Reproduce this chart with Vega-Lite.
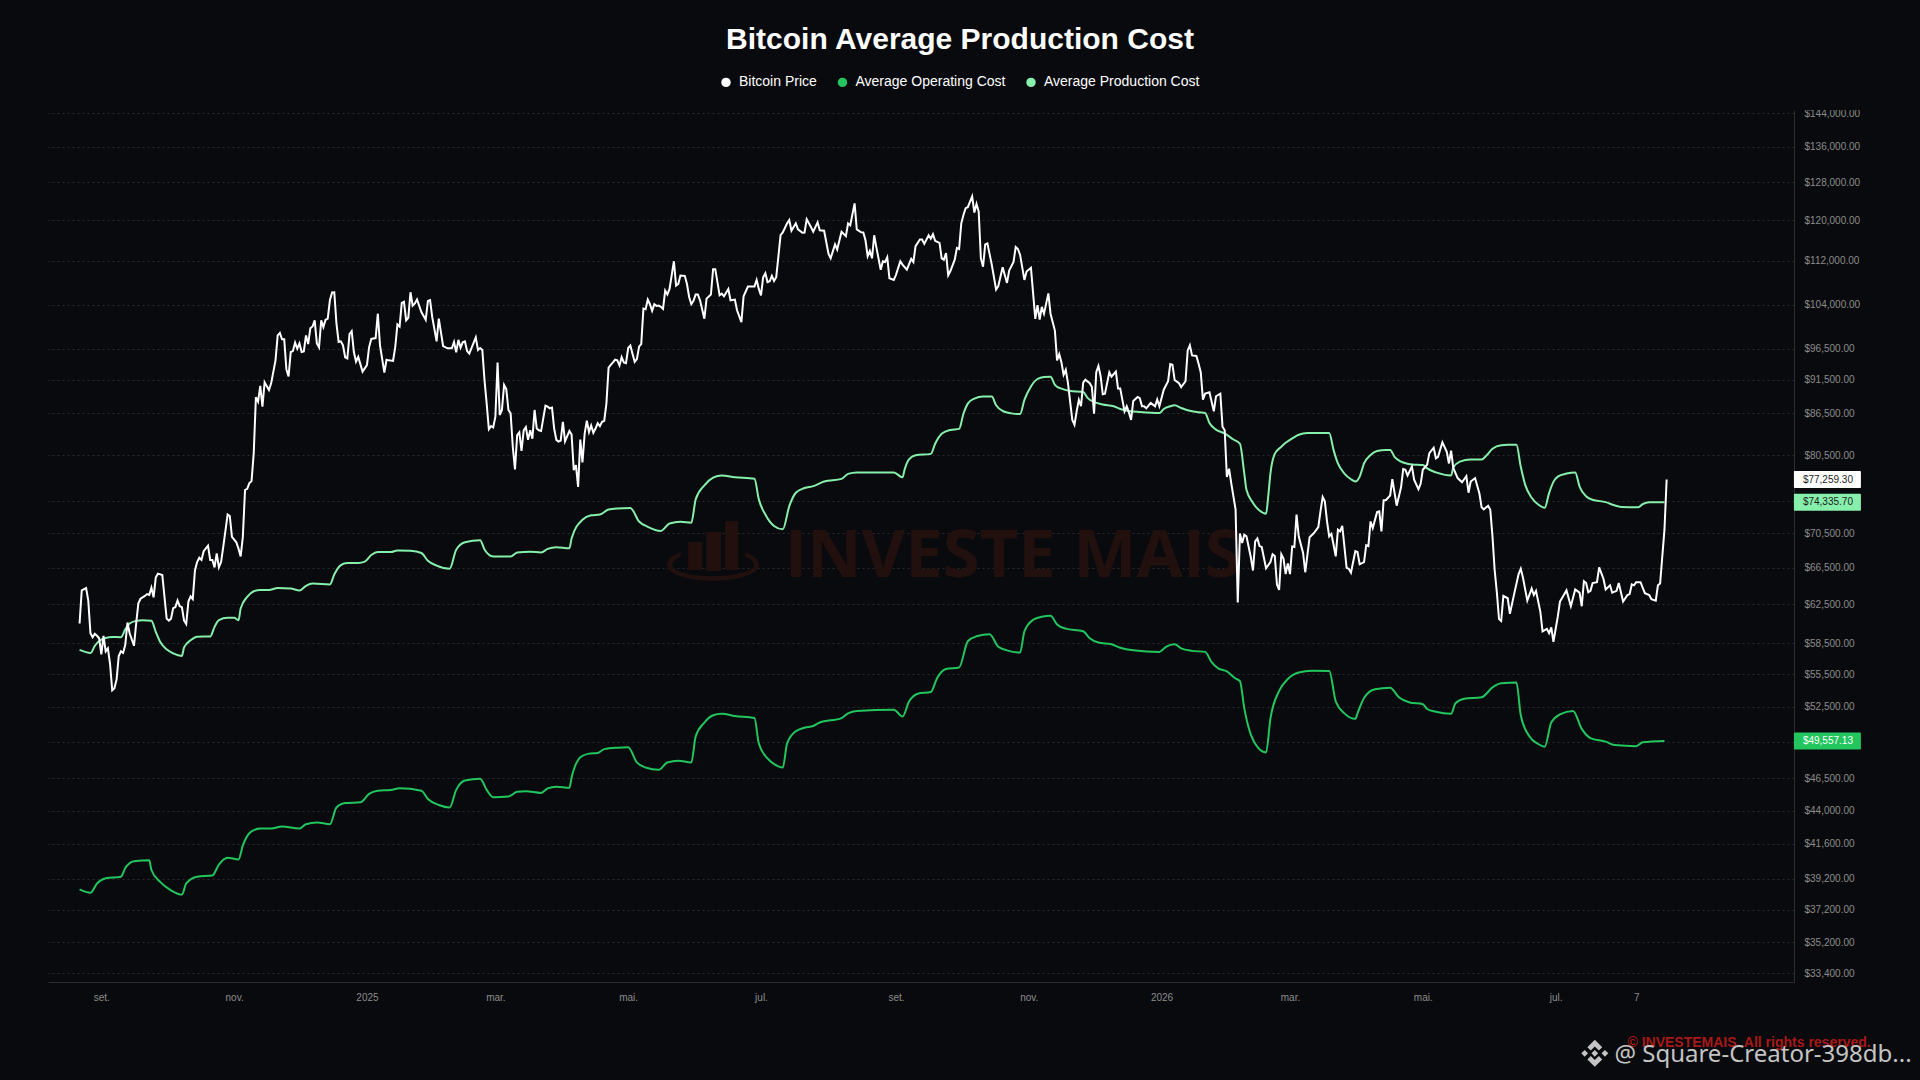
{
  "$schema": "https://vega.github.io/schema/vega-lite/v6.json",
  "description": "Bitcoin price against average operating and production cost",
  "width": 1746,
  "height": 872,
  "autosize": "none",
  "padding": {"left": 48, "top": 110, "right": 126, "bottom": 98},
  "background": "#090a0d",
  "title": {
    "text": "Bitcoin Average Production Cost",
    "font": "Liberation Sans",
    "fontSize": 30,
    "fontWeight": "bold",
    "color": "#ffffff",
    "anchor": "middle",
    "dx": 39,
    "offset": 19.6
  },
  "config": {
    "view": {"stroke": null},
    "font": "Liberation Sans"
  },
  "datasets": {
    "price": [
      {"date":"2024-08-22","value":60500},{"date":"2024-08-23","value":64000},{"date":"2024-08-25","value":64250},{"date":"2024-08-26","value":62900},{"date":"2024-08-27","value":59500},{"date":"2024-08-28","value":59100},{"date":"2024-08-29","value":59450},{"date":"2024-08-30","value":59250},{"date":"2024-08-31","value":59000},{"date":"2024-09-01","value":57400},{"date":"2024-09-02","value":59250},{"date":"2024-09-03","value":57700},{"date":"2024-09-04","value":58000},{"date":"2024-09-05","value":56500},{"date":"2024-09-06","value":54000},{"date":"2024-09-07","value":54200},{"date":"2024-09-08","value":55000},{"date":"2024-09-09","value":57250},{"date":"2024-09-10","value":57700},{"date":"2024-09-11","value":57550},{"date":"2024-09-12","value":58350},{"date":"2024-09-13","value":60600},{"date":"2024-09-14","value":59500},{"date":"2024-09-16","value":58250},{"date":"2024-09-17","value":60500},{"date":"2024-09-18","value":62600},{"date":"2024-09-19","value":63100},{"date":"2024-09-21","value":63400},{"date":"2024-09-22","value":63600},{"date":"2024-09-23","value":63500},{"date":"2024-09-24","value":64300},{"date":"2024-09-25","value":63250},{"date":"2024-09-26","value":65400},{"date":"2024-09-27","value":65850},{"date":"2024-09-29","value":65700},{"date":"2024-10-01","value":61000},{"date":"2024-10-02","value":60800},{"date":"2024-10-03","value":61000},{"date":"2024-10-04","value":62100},{"date":"2024-10-05","value":62200},{"date":"2024-10-06","value":62900},{"date":"2024-10-07","value":62300},{"date":"2024-10-08","value":62200},{"date":"2024-10-09","value":60800},{"date":"2024-10-10","value":60450},{"date":"2024-10-11","value":62800},{"date":"2024-10-12","value":63350},{"date":"2024-10-13","value":63050},{"date":"2024-10-14","value":66200},{"date":"2024-10-15","value":67150},{"date":"2024-10-16","value":67650},{"date":"2024-10-17","value":67400},{"date":"2024-10-18","value":68400},{"date":"2024-10-20","value":69050},{"date":"2024-10-21","value":67400},{"date":"2024-10-22","value":67400},{"date":"2024-10-23","value":66550},{"date":"2024-10-24","value":68150},{"date":"2024-10-25","value":66550},{"date":"2024-10-26","value":67150},{"date":"2024-10-27","value":68900},{"date":"2024-10-29","value":72800},{"date":"2024-10-30","value":72600},{"date":"2024-10-31","value":70100},{"date":"2024-11-02","value":69450},{"date":"2024-11-03","value":68700},{"date":"2024-11-04","value":67800},{"date":"2024-11-05","value":70100},{"date":"2024-11-06","value":75900},{"date":"2024-11-07","value":76050},{"date":"2024-11-08","value":76800},{"date":"2024-11-09","value":77050},{"date":"2024-11-10","value":80780},{"date":"2024-11-11","value":88850},{"date":"2024-11-12","value":88190},{"date":"2024-11-13","value":90570},{"date":"2024-11-14","value":87450},{"date":"2024-11-15","value":91140},{"date":"2024-11-17","value":89950},{"date":"2024-11-18","value":90980},{"date":"2024-11-20","value":94600},{"date":"2024-11-21","value":98700},{"date":"2024-11-22","value":99100},{"date":"2024-11-23","value":98050},{"date":"2024-11-24","value":98050},{"date":"2024-11-25","value":93150},{"date":"2024-11-26","value":92050},{"date":"2024-11-27","value":95950},{"date":"2024-11-28","value":96100},{"date":"2024-11-29","value":97500},{"date":"2024-11-30","value":96500},{"date":"2024-12-01","value":97350},{"date":"2024-12-02","value":95950},{"date":"2024-12-03","value":96050},{"date":"2024-12-04","value":98700},{"date":"2024-12-05","value":97250},{"date":"2024-12-06","value":99900},{"date":"2024-12-07","value":100200},{"date":"2024-12-08","value":101250},{"date":"2024-12-09","value":97350},{"date":"2024-12-10","value":96700},{"date":"2024-12-11","value":101250},{"date":"2024-12-12","value":100100},{"date":"2024-12-13","value":101350},{"date":"2024-12-14","value":101550},{"date":"2024-12-15","value":104800},{"date":"2024-12-16","value":106150},{"date":"2024-12-17","value":106200},{"date":"2024-12-18","value":100700},{"date":"2024-12-19","value":97600},{"date":"2024-12-20","value":97700},{"date":"2024-12-21","value":97050},{"date":"2024-12-22","value":95100},{"date":"2024-12-23","value":94900},{"date":"2024-12-24","value":98900},{"date":"2024-12-25","value":99400},{"date":"2024-12-26","value":95950},{"date":"2024-12-27","value":94400},{"date":"2024-12-28","value":95150},{"date":"2024-12-30","value":92800},{"date":"2025-01-01","value":93850},{"date":"2025-01-02","value":96750},{"date":"2025-01-03","value":98100},{"date":"2025-01-05","value":98250},{"date":"2025-01-06","value":102400},{"date":"2025-01-07","value":97050},{"date":"2025-01-09","value":92650},{"date":"2025-01-10","value":94700},{"date":"2025-01-11","value":94600},{"date":"2025-01-13","value":94500},{"date":"2025-01-14","value":96750},{"date":"2025-01-15","value":100550},{"date":"2025-01-16","value":100200},{"date":"2025-01-17","value":104300},{"date":"2025-01-18","value":104500},{"date":"2025-01-19","value":101250},{"date":"2025-01-20","value":101700},{"date":"2025-01-21","value":106200},{"date":"2025-01-22","value":103800},{"date":"2025-01-23","value":104200},{"date":"2025-01-24","value":104900},{"date":"2025-01-26","value":102700},{"date":"2025-01-28","value":101350},{"date":"2025-01-29","value":104650},{"date":"2025-01-30","value":104800},{"date":"2025-01-31","value":101800},{"date":"2025-02-02","value":97700},{"date":"2025-02-03","value":101550},{"date":"2025-02-05","value":96900},{"date":"2025-02-07","value":96550},{"date":"2025-02-09","value":96550},{"date":"2025-02-10","value":97600},{"date":"2025-02-11","value":95900},{"date":"2025-02-12","value":97950},{"date":"2025-02-13","value":96650},{"date":"2025-02-14","value":97550},{"date":"2025-02-15","value":97700},{"date":"2025-02-16","value":96100},{"date":"2025-02-17","value":95700},
      {"date":"2025-02-20","value":98360},{"date":"2025-02-21","value":96280},{"date":"2025-02-22","value":96600},{"date":"2025-02-23","value":96280},{"date":"2025-02-24","value":91500},{"date":"2025-02-25","value":87900},{"date":"2025-02-26","value":84150},{"date":"2025-02-27","value":84590},{"date":"2025-02-28","value":84400},{"date":"2025-03-01","value":85960},{"date":"2025-03-02","value":94260},{"date":"2025-03-03","value":86200},{"date":"2025-03-04","value":86950},{"date":"2025-03-05","value":90730},{"date":"2025-03-06","value":90100},{"date":"2025-03-07","value":86950},{"date":"2025-03-08","value":86450},{"date":"2025-03-09","value":81650},{"date":"2025-03-10","value":78600},{"date":"2025-03-11","value":83300},{"date":"2025-03-12","value":83700},{"date":"2025-03-13","value":81100},{"date":"2025-03-14","value":84000},{"date":"2025-03-15","value":84450},{"date":"2025-03-16","value":82650},{"date":"2025-03-17","value":84000},{"date":"2025-03-18","value":82800},{"date":"2025-03-19","value":86950},{"date":"2025-03-20","value":84250},{"date":"2025-03-21","value":84000},{"date":"2025-03-22","value":83900},{"date":"2025-03-24","value":87600},{"date":"2025-03-25","value":87450},{"date":"2025-03-26","value":87200},{"date":"2025-03-27","value":87300},{"date":"2025-03-28","value":84250},{"date":"2025-03-29","value":82650},{"date":"2025-03-30","value":82400},{"date":"2025-03-31","value":82550},{"date":"2025-04-01","value":85230},{"date":"2025-04-02","value":82450},{"date":"2025-04-03","value":83170},{"date":"2025-04-04","value":83900},{"date":"2025-04-05","value":83400},{"date":"2025-04-06","value":78500},{"date":"2025-04-07","value":79180},{"date":"2025-04-08","value":76300},{"date":"2025-04-09","value":82700},{"date":"2025-04-10","value":79550},{"date":"2025-04-11","value":83500},{"date":"2025-04-12","value":85380},{"date":"2025-04-13","value":83750},{"date":"2025-04-14","value":84690},{"date":"2025-04-15","value":83650},{"date":"2025-04-16","value":84250},{"date":"2025-04-17","value":85000},{"date":"2025-04-18","value":84600},{"date":"2025-04-19","value":85230},{"date":"2025-04-20","value":85380},{"date":"2025-04-21","value":87900},{"date":"2025-04-22","value":93450},{"date":"2025-04-23","value":93870},{"date":"2025-04-24","value":94260},{"date":"2025-04-25","value":94700},{"date":"2025-04-26","value":94590},{"date":"2025-04-27","value":93770},{"date":"2025-04-28","value":95100},{"date":"2025-04-29","value":94260},{"date":"2025-04-30","value":94150},{"date":"2025-05-01","value":96600},{"date":"2025-05-02","value":97000},{"date":"2025-05-03","value":95630},{"date":"2025-05-04","value":94370},{"date":"2025-05-05","value":94800},{"date":"2025-05-06","value":96830},{"date":"2025-05-07","value":97260},{"date":"2025-05-08","value":103290},{"date":"2025-05-09","value":103180},{"date":"2025-05-10","value":104900},{"date":"2025-05-11","value":104060},{"date":"2025-05-12","value":102900},{"date":"2025-05-13","value":104060},{"date":"2025-05-14","value":103770},{"date":"2025-05-15","value":103820},{"date":"2025-05-16","value":103600},{"date":"2025-05-17","value":103230},{"date":"2025-05-18","value":106500},{"date":"2025-05-19","value":105800},{"date":"2025-05-20","value":106800},{"date":"2025-05-22","value":111950},{"date":"2025-05-23","value":107400},{"date":"2025-05-24","value":107700},{"date":"2025-05-25","value":109250},{"date":"2025-05-27","value":109200},{"date":"2025-05-28","value":107700},{"date":"2025-05-29","value":105350},{"date":"2025-05-30","value":104060},{"date":"2025-05-31","value":104650},{"date":"2025-06-01","value":105800},{"date":"2025-06-02","value":105800},{"date":"2025-06-03","value":104750},{"date":"2025-06-05","value":101530},{"date":"2025-06-06","value":105060},{"date":"2025-06-08","value":105800},{"date":"2025-06-09","value":110450},{"date":"2025-06-10","value":110450},{"date":"2025-06-12","value":105650},{"date":"2025-06-13","value":105950},{"date":"2025-06-14","value":105470},{"date":"2025-06-16","value":106800},{"date":"2025-06-17","value":104750},{"date":"2025-06-19","value":104880},{"date":"2025-06-20","value":103000},{"date":"2025-06-22","value":100950},{"date":"2025-06-23","value":105470},{"date":"2025-06-25","value":107230},{"date":"2025-06-28","value":107230},{"date":"2025-06-29","value":108450},{"date":"2025-06-30","value":106800},{"date":"2025-07-01","value":105650},{"date":"2025-07-02","value":108950},{"date":"2025-07-03","value":109700},{"date":"2025-07-04","value":108050},{"date":"2025-07-05","value":108200},{"date":"2025-07-06","value":109200},{"date":"2025-07-07","value":108250},{"date":"2025-07-08","value":108950},{"date":"2025-07-09","value":112890},{"date":"2025-07-10","value":117010},{"date":"2025-07-11","value":117550},{"date":"2025-07-13","value":119390},{"date":"2025-07-14","value":120070},{"date":"2025-07-15","value":117900},{"date":"2025-07-17","value":119390},{"date":"2025-07-18","value":118180},{"date":"2025-07-20","value":117500},{"date":"2025-07-21","value":117550},{"date":"2025-07-22","value":120200},{"date":"2025-07-24","value":118600},{"date":"2025-07-25","value":117700},{"date":"2025-07-27","value":119600},{"date":"2025-07-28","value":118000},{"date":"2025-07-30","value":117900},{"date":"2025-08-01","value":113400},{"date":"2025-08-02","value":112500},{"date":"2025-08-04","value":115200},{"date":"2025-08-05","value":114200},{"date":"2025-08-07","value":117700},{"date":"2025-08-09","value":116800},{"date":"2025-08-10","value":119390},{"date":"2025-08-11","value":119000},{"date":"2025-08-13","value":123500},{"date":"2025-08-14","value":118180},{"date":"2025-08-16","value":117600},{"date":"2025-08-17","value":117550},{"date":"2025-08-18","value":116000},{"date":"2025-08-19","value":112900},
      {"date":"2025-08-20","value":113900},{"date":"2025-08-21","value":112500},{"date":"2025-08-22","value":117000},{"date":"2025-08-23","value":114600},{"date":"2025-08-25","value":110350},{"date":"2025-08-26","value":111950},{"date":"2025-08-27","value":111800},{"date":"2025-08-28","value":112700},{"date":"2025-08-29","value":108750},{"date":"2025-08-31","value":108450},{"date":"2025-09-01","value":109400},{"date":"2025-09-03","value":111950},{"date":"2025-09-04","value":111300},{"date":"2025-09-06","value":110350},{"date":"2025-09-08","value":112400},{"date":"2025-09-09","value":111800},{"date":"2025-09-10","value":114850},{"date":"2025-09-12","value":116150},{"date":"2025-09-13","value":116150},{"date":"2025-09-14","value":115300},{"date":"2025-09-16","value":117000},{"date":"2025-09-17","value":116300},{"date":"2025-09-18","value":117200},{"date":"2025-09-19","value":115900},{"date":"2025-09-21","value":115500},{"date":"2025-09-22","value":112500},{"date":"2025-09-23","value":112250},{"date":"2025-09-24","value":113500},{"date":"2025-09-25","value":109300},{"date":"2025-09-26","value":110100},{"date":"2025-09-28","value":112250},{"date":"2025-09-29","value":114500},{"date":"2025-09-30","value":114300},{"date":"2025-10-01","value":119390},{"date":"2025-10-02","value":121100},{"date":"2025-10-03","value":122500},{"date":"2025-10-04","value":122700},{"date":"2025-10-06","value":125000},{"date":"2025-10-07","value":121600},{"date":"2025-10-08","value":123400},{"date":"2025-10-09","value":121800},{"date":"2025-10-10","value":112500},{"date":"2025-10-11","value":110900},{"date":"2025-10-12","value":115200},{"date":"2025-10-13","value":115400},{"date":"2025-10-15","value":111300},{"date":"2025-10-17","value":106700},{"date":"2025-10-18","value":107300},{"date":"2025-10-20","value":110800},{"date":"2025-10-22","value":107900},{"date":"2025-10-23","value":110200},{"date":"2025-10-25","value":111800},{"date":"2025-10-26","value":114700},{"date":"2025-10-27","value":114300},{"date":"2025-10-28","value":113200},{"date":"2025-10-30","value":108450},{"date":"2025-10-31","value":110000},{"date":"2025-11-02","value":110700},{"date":"2025-11-04","value":101500},{"date":"2025-11-05","value":103900},{"date":"2025-11-06","value":101400},{"date":"2025-11-07","value":103600},{"date":"2025-11-08","value":102400},{"date":"2025-11-10","value":106000},{"date":"2025-11-11","value":102400},{"date":"2025-11-13","value":99500},{"date":"2025-11-14","value":94600},{"date":"2025-11-15","value":95600},{"date":"2025-11-16","value":94300},{"date":"2025-11-17","value":92300},{"date":"2025-11-18","value":93100},{"date":"2025-11-19","value":91000},{"date":"2025-11-21","value":85500},{"date":"2025-11-22","value":84800},{"date":"2025-11-23","value":86750},{"date":"2025-11-24","value":88450},{"date":"2025-11-25","value":87500},{"date":"2025-11-26","value":91100},{"date":"2025-11-27","value":91550},{"date":"2025-11-29","value":91000},{"date":"2025-11-30","value":90400},{"date":"2025-12-01","value":86400},{"date":"2025-12-02","value":92700},{"date":"2025-12-03","value":93700},{"date":"2025-12-04","value":92100},{"date":"2025-12-05","value":89300},{"date":"2025-12-06","value":89400},{"date":"2025-12-08","value":92700},{"date":"2025-12-09","value":92000},{"date":"2025-12-11","value":92800},{"date":"2025-12-12","value":90200},{"date":"2025-12-13","value":90200},{"date":"2025-12-15","value":86750},{"date":"2025-12-16","value":87500},{"date":"2025-12-17","value":86600},{"date":"2025-12-18","value":85500},{"date":"2025-12-19","value":88300},{"date":"2025-12-21","value":88900},{"date":"2025-12-22","value":88700},{"date":"2025-12-23","value":87500},{"date":"2025-12-24","value":87500},{"date":"2025-12-25","value":87200},{"date":"2025-12-27","value":88000},{"date":"2025-12-29","value":87500},{"date":"2025-12-30","value":88500},{"date":"2025-12-31","value":87500},{"date":"2026-01-02","value":90000},{"date":"2026-01-04","value":91300},{"date":"2026-01-05","value":94000},{"date":"2026-01-06","value":93900},{"date":"2026-01-07","value":91500},{"date":"2026-01-09","value":91000},{"date":"2026-01-10","value":90400},{"date":"2026-01-12","value":91300},{"date":"2026-01-13","value":96200},{"date":"2026-01-14","value":97050},{"date":"2026-01-15","value":95400},{"date":"2026-01-17","value":95300},{"date":"2026-01-18","value":94050},{"date":"2026-01-19","value":92700},{"date":"2026-01-20","value":88500},{"date":"2026-01-21","value":89400},{"date":"2026-01-23","value":89600},{"date":"2026-01-25","value":86750},{"date":"2026-01-26","value":89000},{"date":"2026-01-28","value":89400},{"date":"2026-01-29","value":84500},{"date":"2026-01-30","value":84000},{"date":"2026-01-31","value":77600},{"date":"2026-02-01","value":78700},{"date":"2026-02-02","value":76800},{"date":"2026-02-04","value":73400},{"date":"2026-02-05","value":62700},
      {"date":"2026-02-06","value":70500},{"date":"2026-02-07","value":69350},{"date":"2026-02-08","value":70350},{"date":"2026-02-09","value":70150},{"date":"2026-02-11","value":67700},{"date":"2026-02-12","value":66200},{"date":"2026-02-13","value":69550},{"date":"2026-02-14","value":69900},{"date":"2026-02-15","value":69000},{"date":"2026-02-16","value":68900},{"date":"2026-02-18","value":66450},{"date":"2026-02-20","value":67150},{"date":"2026-02-21","value":68050},{"date":"2026-02-22","value":67850},{"date":"2026-02-23","value":64650},{"date":"2026-02-24","value":64050},{"date":"2026-02-25","value":68050},{"date":"2026-02-26","value":67550},{"date":"2026-02-27","value":65800},{"date":"2026-02-28","value":67000},{"date":"2026-03-01","value":65800},{"date":"2026-03-02","value":68950},{"date":"2026-03-03","value":68900},{"date":"2026-03-04","value":72800},{"date":"2026-03-05","value":70150},{"date":"2026-03-07","value":68200},{"date":"2026-03-08","value":66000},{"date":"2026-03-10","value":70050},{"date":"2026-03-12","value":70550},{"date":"2026-03-14","value":71250},{"date":"2026-03-15","value":73200},{"date":"2026-03-16","value":75000},{"date":"2026-03-17","value":74450},{"date":"2026-03-18","value":71950},{"date":"2026-03-19","value":70150},{"date":"2026-03-20","value":70450},{"date":"2026-03-21","value":69150},{"date":"2026-03-22","value":67800},{"date":"2026-03-23","value":70950},{"date":"2026-03-24","value":70750},{"date":"2026-03-25","value":71400},{"date":"2026-03-27","value":66500},{"date":"2026-03-28","value":66400},{"date":"2026-03-29","value":65950},{"date":"2026-03-31","value":68400},{"date":"2026-04-01","value":68300},{"date":"2026-04-02","value":66900},{"date":"2026-04-04","value":67150},{"date":"2026-04-05","value":69100},{"date":"2026-04-06","value":69000},{"date":"2026-04-07","value":71950},{"date":"2026-04-08","value":71150},{"date":"2026-04-10","value":73100},{"date":"2026-04-11","value":73200},{"date":"2026-04-12","value":70750},{"date":"2026-04-13","value":74600},{"date":"2026-04-14","value":74600},{"date":"2026-04-16","value":75200},{"date":"2026-04-17","value":77300},{"date":"2026-04-19","value":73900},{"date":"2026-04-21","value":76250},{"date":"2026-04-22","value":78650},{"date":"2026-04-23","value":78550},{"date":"2026-04-24","value":77800},{"date":"2026-04-26","value":79000},{"date":"2026-04-27","value":77250},{"date":"2026-04-29","value":76000},{"date":"2026-04-30","value":76700},{"date":"2026-05-01","value":78550},{"date":"2026-05-03","value":79250},{"date":"2026-05-04","value":80800},{"date":"2026-05-06","value":81550},{"date":"2026-05-07","value":80100},{"date":"2026-05-08","value":80300},{"date":"2026-05-10","value":82300},{"date":"2026-05-12","value":81000},{"date":"2026-05-13","value":79400},{"date":"2026-05-14","value":81150},{"date":"2026-05-15","value":78800},{"date":"2026-05-17","value":77450},{"date":"2026-05-19","value":76900},{"date":"2026-05-21","value":77700},{"date":"2026-05-22","value":75550},{"date":"2026-05-23","value":77000},{"date":"2026-05-25","value":77450},{"date":"2026-05-27","value":75450},{"date":"2026-05-28","value":73700},{"date":"2026-05-29","value":73450},{"date":"2026-05-31","value":73900},{"date":"2026-06-01","value":73400},{"date":"2026-06-02","value":70150},{"date":"2026-06-03","value":66250},{"date":"2026-06-04","value":63800},{"date":"2026-06-05","value":60950},{"date":"2026-06-06","value":60750},{"date":"2026-06-07","value":63400},{"date":"2026-06-09","value":63150},{"date":"2026-06-10","value":61500},{"date":"2026-06-12","value":63650},{"date":"2026-06-14","value":65800},{"date":"2026-06-15","value":66400},{"date":"2026-06-16","value":65400},{"date":"2026-06-18","value":62900},{"date":"2026-06-20","value":64200},{"date":"2026-06-21","value":63500},{"date":"2026-06-22","value":63950},{"date":"2026-06-24","value":61700},{"date":"2026-06-25","value":59700},{"date":"2026-06-27","value":59950},{"date":"2026-06-28","value":59500},{"date":"2026-06-29","value":60100},{"date":"2026-06-30","value":58650},{"date":"2026-07-02","value":61200},{"date":"2026-07-03","value":62800},{"date":"2026-07-06","value":64000},{"date":"2026-07-08","value":62300},{"date":"2026-07-10","value":64100},{"date":"2026-07-12","value":63750},{"date":"2026-07-13","value":62300},{"date":"2026-07-14","value":65000},{"date":"2026-07-15","value":64800},{"date":"2026-07-16","value":63800},{"date":"2026-07-17","value":63950},{"date":"2026-07-18","value":64800},{"date":"2026-07-20","value":64900},{"date":"2026-07-21","value":66550},{"date":"2026-07-23","value":65250},{"date":"2026-07-24","value":64100},{"date":"2026-07-26","value":64550},{"date":"2026-07-27","value":63750},{"date":"2026-07-29","value":63950},{"date":"2026-07-30","value":64800},{"date":"2026-08-01","value":62800},{"date":"2026-08-03","value":63500},{"date":"2026-08-04","value":63600},{"date":"2026-08-05","value":64650},{"date":"2026-08-06","value":64550},{"date":"2026-08-07","value":64900},{"date":"2026-08-09","value":64900},{"date":"2026-08-11","value":63700},{"date":"2026-08-13","value":63500},{"date":"2026-08-14","value":63050},{"date":"2026-08-16","value":62900},{"date":"2026-08-17","value":64550},{"date":"2026-08-18","value":64750},{"date":"2026-08-20","value":70950},{"date":"2026-08-21","value":77259.3}
    ],
    "operating": [
      {"date":"2024-08-22","value":38510},{"date":"2024-08-27","value":38290},{"date":"2024-08-30","value":38900},{"date":"2024-09-03","value":39250},{"date":"2024-09-10","value":39350},{"date":"2024-09-12","value":39930},{"date":"2024-09-16","value":40400},{"date":"2024-09-23","value":40470},{"date":"2024-09-24","value":39800},{"date":"2024-09-28","value":39000},{"date":"2024-10-03","value":38450},{"date":"2024-10-08","value":38170},{"date":"2024-10-10","value":38900},{"date":"2024-10-15","value":39350},{"date":"2024-10-22","value":39430},{"date":"2024-10-25","value":40170},{"date":"2024-10-29","value":40640},{"date":"2024-11-03","value":40520},{"date":"2024-11-05","value":41500},{"date":"2024-11-09","value":42500},{"date":"2024-11-13","value":42700},{"date":"2024-11-18","value":42700},{"date":"2024-11-23","value":42850},{"date":"2024-12-01","value":42700},{"date":"2024-12-04","value":43020},{"date":"2024-12-09","value":43150},{"date":"2024-12-15","value":43020},{"date":"2024-12-18","value":44260},{"date":"2024-12-22","value":44600},{"date":"2024-12-29","value":44650},{"date":"2025-01-02","value":45300},{"date":"2025-01-06","value":45530},{"date":"2025-01-12","value":45600},{"date":"2025-01-16","value":45720},{"date":"2025-01-26","value":45530},{"date":"2025-01-29","value":44900},{"date":"2025-02-03","value":44450},{"date":"2025-02-08","value":44260},{"date":"2025-02-11","value":45600},{"date":"2025-02-15","value":46330},{"date":"2025-02-22","value":46470},{"date":"2025-02-25","value":45600},{"date":"2025-02-28","value":45040},{"date":"2025-03-07","value":45090},{"date":"2025-03-11","value":45450},{"date":"2025-03-15","value":45500},{"date":"2025-03-22","value":45370},{"date":"2025-03-25","value":45720},{"date":"2025-03-29","value":45850},{"date":"2025-04-04","value":45770},{"date":"2025-04-05","value":46560},{"date":"2025-04-09","value":48200},{"date":"2025-04-13","value":48500},{"date":"2025-04-17","value":48560},{"date":"2025-04-20","value":48870},{"date":"2025-04-26","value":48990},{"date":"2025-05-01","value":49020},{"date":"2025-05-05","value":47780},{"date":"2025-05-09","value":47370},{"date":"2025-05-15","value":47180},{"date":"2025-05-19","value":47780},{"date":"2025-05-24","value":47920},{"date":"2025-05-30","value":47780},{"date":"2025-06-01","value":49930},{"date":"2025-06-05","value":51130},{"date":"2025-06-09","value":51770},{"date":"2025-06-13","value":51900},{"date":"2025-06-19","value":51700},{"date":"2025-06-28","value":51520},{"date":"2025-06-30","value":49350},{"date":"2025-07-04","value":48100},{"date":"2025-07-08","value":47550},{"date":"2025-07-11","value":47360},{"date":"2025-07-13","value":49350},{"date":"2025-07-17","value":50380},{"date":"2025-07-21","value":50680},{"date":"2025-07-25","value":50830},{"date":"2025-07-28","value":51130},{"date":"2025-08-07","value":51520},{"date":"2025-08-10","value":51930},{"date":"2025-08-14","value":52150},{"date":"2025-08-31","value":52250},{"date":"2025-09-04","value":51650},{"date":"2025-09-07","value":52990},{"date":"2025-09-11","value":53700},{"date":"2025-09-17","value":53850},{"date":"2025-09-20","value":55180},{"date":"2025-09-24","value":56000},{"date":"2025-09-30","value":56150},{"date":"2025-10-04","value":58700},{"date":"2025-10-08","value":59200},{"date":"2025-10-14","value":59400},{"date":"2025-10-18","value":58150},{"date":"2025-10-22","value":57800},{"date":"2025-10-28","value":57580},{"date":"2025-10-30","value":59700},{"date":"2025-11-03","value":60880},{"date":"2025-11-07","value":61200},{"date":"2025-11-11","value":61300},{"date":"2025-11-14","value":60400},{"date":"2025-11-18","value":59970},{"date":"2025-11-26","value":59700},{"date":"2025-11-29","value":59000},{"date":"2025-12-03","value":58570},{"date":"2025-12-09","value":58400},{"date":"2025-12-13","value":58050},{"date":"2025-12-19","value":57800},{"date":"2025-12-31","value":57650},{"date":"2026-01-03","value":58150},{"date":"2026-01-07","value":58400},{"date":"2026-01-10","value":58000},{"date":"2026-01-15","value":57750},{"date":"2026-01-21","value":57650},{"date":"2026-01-24","value":56650},{"date":"2026-01-27","value":56050},{"date":"2026-01-31","value":55770},{"date":"2026-02-04","value":55100},{"date":"2026-02-06","value":54860},{"date":"2026-02-08","value":52380},{"date":"2026-02-11","value":50090},{"date":"2026-02-14","value":49060},{"date":"2026-02-18","value":48600},{"date":"2026-02-20","value":51470},{"date":"2026-02-24","value":53950},{"date":"2026-02-28","value":55050},{"date":"2026-03-05","value":55660},{"date":"2026-03-11","value":55820},{"date":"2026-03-19","value":55800},{"date":"2026-03-22","value":53000},{"date":"2026-03-26","value":51930},{"date":"2026-03-31","value":51450},{"date":"2026-04-01","value":51930},{"date":"2026-04-04","value":53300},{"date":"2026-04-09","value":54100},{"date":"2026-04-16","value":54250},{"date":"2026-04-20","value":53370},{"date":"2026-04-25","value":52900},{"date":"2026-05-01","value":52750},{"date":"2026-05-03","value":52320},{"date":"2026-05-07","value":52070},{"date":"2026-05-14","value":51900},{"date":"2026-05-16","value":52830},{"date":"2026-05-20","value":53240},{"date":"2026-05-28","value":53370},{"date":"2026-06-02","value":54270},{"date":"2026-06-06","value":54650},{"date":"2026-06-13","value":54720},{"date":"2026-06-15","value":51770},{"date":"2026-06-19","value":49930},{"date":"2026-06-23","value":49300},{"date":"2026-06-26","value":49070},{"date":"2026-06-29","value":51130},{"date":"2026-07-03","value":51840},{"date":"2026-07-09","value":52150},{"date":"2026-07-13","value":50580},{"date":"2026-07-17","value":49800},{"date":"2026-07-24","value":49500},{"date":"2026-07-28","value":49210},{"date":"2026-08-07","value":49120},{"date":"2026-08-10","value":49440},{"date":"2026-08-20","value":49557.13}
    ],
    "production": [
      {"date":"2024-08-22","value":57840},{"date":"2024-08-27","value":57540},{"date":"2024-08-29","value":58240},{"date":"2024-08-31","value":58730},{"date":"2024-09-03","value":59030},{"date":"2024-09-06","value":59130},{"date":"2024-09-10","value":59100},{"date":"2024-09-12","value":59900},{"date":"2024-09-14","value":60500},{"date":"2024-09-17","value":60770},{"date":"2024-09-20","value":60840},{"date":"2024-09-24","value":60770},{"date":"2024-09-26","value":59650},{"date":"2024-09-28","value":58650},{"date":"2024-10-01","value":57900},{"date":"2024-10-04","value":57500},{"date":"2024-10-08","value":57250},{"date":"2024-10-09","value":58100},{"date":"2024-10-12","value":58800},{"date":"2024-10-15","value":59150},{"date":"2024-10-18","value":59170},{"date":"2024-10-21","value":59170},{"date":"2024-10-23","value":60150},{"date":"2024-10-25","value":60840},{"date":"2024-10-29","value":61080},{"date":"2024-11-01","value":61080},{"date":"2024-11-03","value":60840},{"date":"2024-11-04","value":62050},{"date":"2024-11-07","value":63300},{"date":"2024-11-10","value":63900},{"date":"2024-11-13","value":64050},{"date":"2024-11-17","value":64050},{"date":"2024-11-21","value":64250},{"date":"2024-11-27","value":64200},{"date":"2024-12-01","value":64000},{"date":"2024-12-04","value":64500},{"date":"2024-12-07","value":64750},{"date":"2024-12-15","value":64650},{"date":"2024-12-17","value":65750},{"date":"2024-12-20","value":66800},{"date":"2024-12-23","value":67050},{"date":"2024-12-28","value":67050},{"date":"2024-12-31","value":67200},{"date":"2025-01-03","value":67970},{"date":"2025-01-06","value":68300},{"date":"2025-01-12","value":68300},{"date":"2025-01-15","value":68500},{"date":"2025-01-21","value":68450},{"date":"2025-01-26","value":68200},{"date":"2025-01-29","value":67300},{"date":"2025-02-02","value":66750},{"date":"2025-02-08","value":66400},{"date":"2025-02-11","value":68570},{"date":"2025-02-15","value":69450},{"date":"2025-02-22","value":69700},{"date":"2025-02-24","value":68600},{"date":"2025-02-28","value":67800},{"date":"2025-03-08","value":67800},{"date":"2025-03-11","value":68250},{"date":"2025-03-17","value":68350},{"date":"2025-03-22","value":68250},{"date":"2025-03-25","value":68670},{"date":"2025-03-29","value":68870},{"date":"2025-04-04","value":68750},{"date":"2025-04-05","value":69900},{"date":"2025-04-10","value":72150},{"date":"2025-04-14","value":72700},{"date":"2025-04-18","value":72800},{"date":"2025-04-22","value":73430},{"date":"2025-04-26","value":73550},{"date":"2025-05-02","value":73600},{"date":"2025-05-06","value":71950},{"date":"2025-05-10","value":71300},{"date":"2025-05-16","value":70800},{"date":"2025-05-20","value":71700},{"date":"2025-05-25","value":71900},{"date":"2025-05-30","value":71800},{"date":"2025-06-01","value":74700},{"date":"2025-06-05","value":76500},{"date":"2025-06-09","value":77500},{"date":"2025-06-13","value":77800},{"date":"2025-06-19","value":77570},{"date":"2025-06-28","value":77350},{"date":"2025-06-30","value":74700},{"date":"2025-07-03","value":72800},{"date":"2025-07-07","value":71400},{"date":"2025-07-11","value":71000},{"date":"2025-07-14","value":73850},{"date":"2025-07-17","value":75550},{"date":"2025-07-21","value":76150},{"date":"2025-07-25","value":76400},{"date":"2025-07-30","value":77000},{"date":"2025-08-07","value":77350},{"date":"2025-08-10","value":78000},{"date":"2025-08-14","value":78200},{"date":"2025-08-31","value":78200},{"date":"2025-09-04","value":77550},{"date":"2025-09-05","value":78600},{"date":"2025-09-07","value":79950},{"date":"2025-09-10","value":80500},{"date":"2025-09-17","value":80700},{"date":"2025-09-19","value":82100},{"date":"2025-09-22","value":83500},{"date":"2025-09-26","value":84050},{"date":"2025-09-30","value":84200},{"date":"2025-10-02","value":86400},{"date":"2025-10-04","value":87900},{"date":"2025-10-07","value":88650},{"date":"2025-10-11","value":88950},{"date":"2025-10-15","value":88950},{"date":"2025-10-17","value":87650},{"date":"2025-10-20","value":86800},{"date":"2025-10-24","value":86450},{"date":"2025-10-28","value":86350},{"date":"2025-10-30","value":88450},{"date":"2025-11-02","value":90500},{"date":"2025-11-05","value":91650},{"date":"2025-11-08","value":91950},{"date":"2025-11-11","value":92000},{"date":"2025-11-13","value":90750},{"date":"2025-11-16","value":90150},{"date":"2025-11-20","value":89800},{"date":"2025-11-26","value":89650},{"date":"2025-11-28","value":88750},{"date":"2025-12-01","value":88150},{"date":"2025-12-05","value":87750},{"date":"2025-12-10","value":87500},{"date":"2025-12-13","value":87100},{"date":"2025-12-17","value":86800},{"date":"2025-12-22","value":86650},{"date":"2025-12-31","value":86500},{"date":"2026-01-02","value":87100},{"date":"2026-01-05","value":87500},{"date":"2026-01-07","value":87650},{"date":"2026-01-10","value":87250},{"date":"2026-01-13","value":86900},{"date":"2026-01-18","value":86600},{"date":"2026-01-21","value":86500},{"date":"2026-01-23","value":85050},{"date":"2026-01-26","value":84100},{"date":"2026-01-30","value":83550},{"date":"2026-02-03","value":82700},{"date":"2026-02-06","value":82100},{"date":"2026-02-08","value":78040},{"date":"2026-02-09","value":75930},{"date":"2026-02-12","value":74250},{"date":"2026-02-15","value":73300},{"date":"2026-02-18","value":72900},{"date":"2026-02-19","value":75100},{"date":"2026-02-20","value":78050},{"date":"2026-02-22","value":80700},{"date":"2026-02-25","value":81680},{"date":"2026-02-27","value":82230},{"date":"2026-03-02","value":82850},{"date":"2026-03-05","value":83370},{"date":"2026-03-09","value":83620},{"date":"2026-03-15","value":83620},{"date":"2026-03-19","value":83620},{"date":"2026-03-21","value":81250},{"date":"2026-03-23","value":79400},{"date":"2026-03-26","value":78050},{"date":"2026-03-29","value":77300},{"date":"2026-03-31","value":77000},{"date":"2026-04-02","value":77650},{"date":"2026-04-04","value":79400},{"date":"2026-04-07","value":80550},{"date":"2026-04-10","value":81100},{"date":"2026-04-14","value":81250},{"date":"2026-04-16","value":81250},{"date":"2026-04-18","value":80300},{"date":"2026-04-21","value":79650},{"date":"2026-04-26","value":79270},{"date":"2026-05-01","value":79180},{"date":"2026-05-03","value":78730},{"date":"2026-05-07","value":78200},{"date":"2026-05-14","value":77800},{"date":"2026-05-15","value":78850},{"date":"2026-05-18","value":79650},{"date":"2026-05-23","value":79950},{"date":"2026-05-28","value":79950},{"date":"2026-05-30","value":80400},{"date":"2026-06-02","value":81400},{"date":"2026-06-06","value":81900},{"date":"2026-06-09","value":81950},{"date":"2026-06-13","value":81950},{"date":"2026-06-15","value":78950},{"date":"2026-06-17","value":76600},{"date":"2026-06-20","value":74900},{"date":"2026-06-23","value":74050},{"date":"2026-06-26","value":73650},{"date":"2026-06-28","value":75500},{"date":"2026-06-30","value":76950},{"date":"2026-07-02","value":77650},{"date":"2026-07-06","value":78050},{"date":"2026-07-10","value":78200},{"date":"2026-07-12","value":76350},{"date":"2026-07-15","value":75100},{"date":"2026-07-18","value":74650},{"date":"2026-07-24","value":74350},{"date":"2026-07-28","value":73950},{"date":"2026-07-31","value":73750},{"date":"2026-08-08","value":73700},{"date":"2026-08-10","value":74100},{"date":"2026-08-13","value":74350},{"date":"2026-08-20","value":74335.7}
    ],
    "flags": [
      {"date":"2026-10-18","value":77259.3,"series":"Bitcoin Price"},
      {"date":"2026-10-18","value":74335.7,"series":"Average Production Cost"},
      {"date":"2026-10-18","value":49557.13,"series":"Average Operating Cost"}
    ]
  },
  "encoding": {
    "x": {
      "field": "date",
      "type": "temporal",
      "title": null,
      "scale": {"domain": [{"year": 2024, "month": 8, "date": 7, "hours": 12}, {"year": 2026, "month": 10, "date": 18, "hours": 12}]},
      "axis": {
        "values": [
          {"year": 2024, "month": 9, "date": 1}, {"year": 2024, "month": 11, "date": 1},
          {"year": 2025, "month": 1, "date": 1}, {"year": 2025, "month": 3, "date": 1},
          {"year": 2025, "month": 5, "date": 1}, {"year": 2025, "month": 7, "date": 1},
          {"year": 2025, "month": 9, "date": 1}, {"year": 2025, "month": 11, "date": 1},
          {"year": 2026, "month": 1, "date": 1}, {"year": 2026, "month": 3, "date": 1},
          {"year": 2026, "month": 5, "date": 1}, {"year": 2026, "month": 7, "date": 1},
          {"year": 2026, "month": 8, "date": 7}
        ],
        "labelExpr": "month(datum.value)==0?timeFormat(datum.value,'%Y'):month(datum.value)==8?'set.':month(datum.value)==10?'nov.':month(datum.value)==2?'mar.':month(datum.value)==4?'mai.':month(datum.value)==6?'jul.':'7'",
        "grid": false,
        "ticks": false,
        "domainColor": "#2c2d31",
        "labelColor": "#8c8c8c",
        "labelFont": "Liberation Sans",
        "labelFontSize": 10,
        "labelPadding": 10,
        "labelOverlap": false,
        "labelFlush": false
      }
    },
    "y": {
      "field": "value",
      "type": "quantitative",
      "title": null,
      "scale": {"type": "log", "domain": [32904, 144740], "nice": false},
      "axis": {
        "orient": "right",
        "values": [33400, 35200, 37200, 39200, 41600, 44000, 46500, 49500, 52500, 55500, 58500, 62500, 66500, 70500, 74500, 80500, 86500, 91500, 96500, 104000, 112000, 120000, 128000, 136000, 144000],
        "format": "$,.2f",
        "grid": true,
        "gridColor": "#2a2b2e",
        "gridDash": [2, 3],
        "gridWidth": 1,
        "ticks": false,
        "domainColor": "#2c2d31",
        "labelColor": "#8c8c8c",
        "labelFont": "Liberation Sans",
        "labelFontSize": 10,
        "labelPadding": 10,
        "labelOverlap": false
      }
    }
  },
  "layer": [
    {
      "data": {"values": [{"date": "2025-07-12", "value": 65460, "label": "INVESTE MAIS"}]},
      "mark": {"type": "text", "font": "Open Sans", "fontWeight": "bold", "fontSize": 67, "align": "left", "baseline": "alphabetic", "color": "#22100f"},
      "encoding": {"text": {"field": "label"}}
    },
    {
      "data": {"values": [{"date": "2025-06-09", "value": 68430}]},
      "mark": {
        "type": "point",
        "filled": true,
        "opacity": 1,
        "size": 8464,
        "color": "#22100f",
        "shape": "M-.543,-.196L-.239,-.196L-.239,.413L-.543,.413ZM-.152,-.413L.174,-.413L.174,.435L-.152,.435ZM.261,-.652L.543,-.652L.543,.413L.261,.413ZM-.7,.02C-.9,.1,-1,.2,-1,.3C-1,.52,-.5,.65,0,.65C.5,.65,1,.52,1,.3C1,.2,.9,.1,.7,.02L.7,.12C.82,.18,.89,.24,.89,.3C.89,.45,.45,.55,0,.55C-.45,.55,-.89,.45,-.89,.3C-.89,.24,-.82,.18,-.7,.12Z"
      }
    },
    {
      "data": {"name": "production"},
      "mark": {"type": "line", "strokeWidth": 2, "interpolate": "monotone"},
      "encoding": {
        "color": {
          "datum": "Average Production Cost",
          "title": null,
          "scale": {
            "domain": ["Bitcoin Price", "Average Operating Cost", "Average Production Cost"],
            "range": ["#ffffff", "#22c55e", "#86efac"]
          },
          "legend": {
            "orient": "none",
            "legendX": 671,
            "legendY": -35,
            "direction": "horizontal",
            "title": null,
            "symbolType": "circle",
            "symbolSize": 20,
            "symbolStrokeWidth": 5,
            "labelColor": "#ffffff",
            "labelFont": "Liberation Sans",
            "labelFontSize": 14,
            "labelOffset": 6,
            "columnPadding": 12.5
          }
        }
      }
    },
    {
      "data": {"name": "operating"},
      "mark": {"type": "line", "strokeWidth": 2, "interpolate": "monotone"},
      "encoding": {"color": {"datum": "Average Operating Cost", "title": null}}
    },
    {
      "data": {"name": "price"},
      "mark": {"type": "line", "strokeWidth": 2},
      "encoding": {"color": {"datum": "Bitcoin Price", "title": null}}
    },
    {
      "data": {"name": "flags"},
      "mark": {"type": "rect", "width": 67, "height": 17, "xOffset": 34.5, "cornerRadius": 1},
      "encoding": {"color": {"field": "series", "type": "nominal", "title": null}}
    },
    {
      "data": {"name": "flags"},
      "mark": {"type": "text", "font": "Liberation Sans", "fontSize": 10, "align": "left", "xOffset": 10},
      "encoding": {
        "text": {"field": "value", "type": "quantitative", "format": "$,.2f"},
        "color": {
          "condition": {"test": "datum.series === 'Average Operating Cost'", "value": "#ffffff"},
          "value": "#1c1c1c"
        }
      }
    },
    {
      "data": {"values": [{"date": "2026-10-18", "value": 145350}]},
      "mark": {"type": "rect", "width": 67, "height": 5, "xOffset": 34.5, "color": "#090a0d"}
    },
    {
      "data": {"values": [{"date": "2026-08-03", "value": 29640, "label": "© INVESTEMAIS. All rights reserved."}]},
      "mark": {"type": "text", "font": "Liberation Sans", "fontWeight": "bold", "fontSize": 14, "align": "left", "color": "#a81818"},
      "encoding": {"text": {"field": "label"}}
    },
    {
      "data": {"values": [{"date": "2026-07-28", "value": 29060, "label": "@ Square-Creator-398db..."}]},
      "mark": {"type": "text", "font": "Noto Sans", "fontSize": 24, "align": "left", "color": "#c4c4c4"},
      "encoding": {"text": {"field": "label"}}
    },
    {
      "data": {"values": [{"date": "2026-07-19", "value": 29150}]},
      "mark": {
        "type": "point",
        "filled": true,
        "opacity": 1,
        "size": 729,
        "color": "#c4c4c4",
        "shape": "M0,-1L.55,-.45L.3,-.2L0,-.5L-.3,-.2L-.55,-.45ZM0,1L.55,.45L.3,.2L0,.5L-.3,.2L-.55,.45ZM-1,0L-.75,-.25L-.5,0L-.75,.25ZM1,0L.75,-.25L.5,0L.75,.25ZM0,-.25L.25,0L0,.25L-.25,0Z"
      }
    }
  ]
}
